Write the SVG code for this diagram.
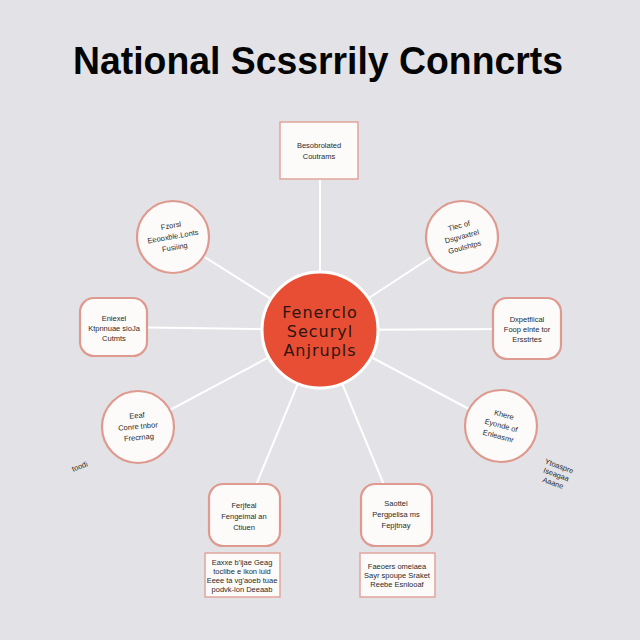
<svg xmlns="http://www.w3.org/2000/svg" width="640" height="640" viewBox="0 0 640 640">
<style>
.bg{fill:#e3e3e7}
.title{font-family:"Liberation Sans",Arial,sans-serif;font-weight:bold;font-size:39px;fill:#050505}
.node{fill:#fdfbfa;stroke:#df9a8f;stroke-width:2.2}
.box{fill:#fdfbfa;stroke:#e2a59c;stroke-width:1.5}
.t{font-family:"Liberation Sans",Arial,sans-serif;font-size:7.5px;fill:#2a2a2a;text-anchor:middle}
.ct{font-family:"DejaVu Sans",sans-serif;font-size:16px;fill:#2e1410;text-anchor:middle;letter-spacing:1px}
.conn line{stroke:#ffffff;stroke-width:2}
</style>
<rect class="bg" x="0" y="0" width="640" height="640"/>
<text class="title" x="318" y="74" text-anchor="middle" textLength="490" lengthAdjust="spacingAndGlyphs">National Scssrrily Conncrts</text>
<g id="connectors" class="conn">
<line x1="320" y1="330" x2="320" y2="179"/>
<line x1="320" y1="330" x2="173" y2="237"/>
<line x1="320" y1="330" x2="462" y2="237"/>
<line x1="320" y1="330" x2="114" y2="327"/>
<line x1="320" y1="330" x2="527" y2="329"/>
<line x1="320" y1="330" x2="138" y2="427"/>
<line x1="320" y1="330" x2="501" y2="426"/>
<line x1="320" y1="330" x2="244" y2="514"/>
<line x1="320" y1="330" x2="396" y2="514"/>
</g>
<g id="center">
<circle cx="320" cy="330" r="58" fill="#e84e33" stroke="#ffffff" stroke-width="3"/>
<text class="ct" x="320" y="318">Fenerclo</text>
<text class="ct" x="320" y="337">Securyl</text>
<text class="ct" x="320" y="356">Anjrupls</text>
</g>
<g id="top">
<rect class="box" x="280" y="122" width="78" height="57"/>
<text class="t" x="319" y="148">Besobrolated</text>
<text class="t" x="319" y="159">Coutrams</text>
</g>
<g id="topleft">
<circle class="node" cx="173" cy="237" r="36"/>
<g transform="rotate(-10 173 237)">
<text class="t" x="173" y="228">Fzorsl</text>
<text class="t" x="173" y="239">Eeooxble.Lonts</text>
<text class="t" x="173" y="250">Fusiiing</text>
</g>
</g>
<g id="topright">
<circle class="node" cx="462" cy="237" r="36"/>
<g transform="rotate(-15 462 237)">
<text class="t" x="462" y="228">Tlec of</text>
<text class="t" x="462" y="239">Dsgvaxtrel</text>
<text class="t" x="462" y="250">Goulshtps</text>
</g>
</g>
<g id="left">
<rect class="node" x="80" y="298" width="67" height="58" rx="14"/>
<text class="t" x="114" y="321">Eniexel</text>
<text class="t" x="114" y="331">Ktpnnuae sioJa</text>
<text class="t" x="114" y="341">Cutmts</text>
</g>
<g id="right">
<rect class="node" x="493" y="298" width="68" height="61" rx="14"/>
<text class="t" x="527" y="322">Dxpetfiical</text>
<text class="t" x="527" y="332">Foop elnte tor</text>
<text class="t" x="527" y="342">Ersstrtes</text>
</g>
<g id="bottomleft">
<circle class="node" cx="138" cy="427" r="36"/>
<g transform="rotate(-5 138 427)">
<text class="t" x="138" y="418">Eeaf</text>
<text class="t" x="138" y="429">Conre tnbor</text>
<text class="t" x="138" y="440">Frecrnag</text>
</g>
</g>
<g id="bottomright">
<circle class="node" cx="501" cy="426" r="36"/>
<g transform="rotate(15 501 426)">
<text class="t" x="501" y="417">Khere</text>
<text class="t" x="501" y="428">Eyonde of</text>
<text class="t" x="501" y="439">Enleasmr</text>
</g>
</g>
<g id="bottom1">
<rect class="node" x="209" y="484" width="71" height="62" rx="14"/>
<text class="t" x="244" y="508">Ferjfeal</text>
<text class="t" x="244" y="519">Fengeimal an</text>
<text class="t" x="244" y="530">Ctiuen</text>
</g>
<g id="bottom2">
<rect class="node" x="361" y="484" width="71" height="62" rx="14"/>
<text class="t" x="396" y="506">Saottel</text>
<text class="t" x="396" y="517">Pergpelisa ms</text>
<text class="t" x="396" y="528">Fepjtnay</text>
</g>
<g id="note1">
<rect class="box" x="205" y="553" width="75" height="44" stroke-width="1"/>
<text class="t" x="242" y="565" font-size="6.5">Eaxxe b&apos;ijae Geag</text>
<text class="t" x="242" y="574" font-size="6.5">toclibe e ikon iuid</text>
<text class="t" x="242" y="583" font-size="6.5">Eeee ta vg&apos;aoeb tuae</text>
<text class="t" x="242" y="592" font-size="6.5">podvk-lon Deeaab</text>
</g>
<g id="note2">
<rect class="box" x="360" y="553" width="75" height="44" stroke-width="1"/>
<text class="t" x="397" y="569" font-size="6.5">Faeoers omeiaea</text>
<text class="t" x="397" y="578" font-size="6.5">Sayr spoupe Sraket</text>
<text class="t" x="397" y="587" font-size="6.5">Reebe Esnlooaf</text>
</g>
<g id="mark1">
<text class="t" x="80" y="469" font-size="6" transform="rotate(-20 80 467)">toodi</text>
</g>
<g id="mark2" transform="rotate(20 556 475)">
<text class="t" x="556" y="468" font-size="6">Ytoaspre</text>
<text class="t" x="556" y="477" font-size="6">Iseagaa</text>
<text class="t" x="556" y="486" font-size="6">Aaane</text>
</g>
</svg>
